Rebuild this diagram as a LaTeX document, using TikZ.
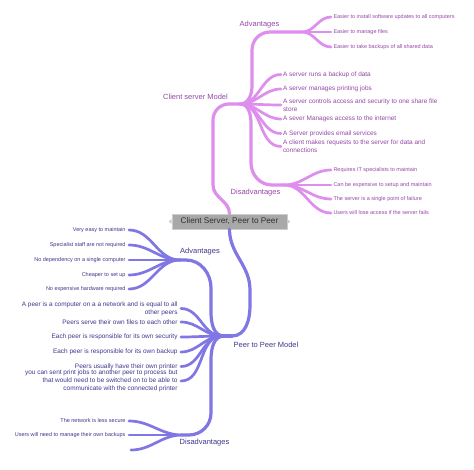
\documentclass[tikz,border=0pt]{standalone}
\usepackage{fontspec}
\setmainfont{Liberation Sans}
\definecolor{pinkc}{RGB}{222,142,236}
\definecolor{pinkt}{RGB}{150,72,168}
\definecolor{bluec}{RGB}{128,118,228}
\definecolor{bluet}{RGB}{62,56,140}
\definecolor{boxf}{RGB}{168,168,168}
\definecolor{boxd}{RGB}{205,205,205}
\definecolor{boxt}{RGB}{48,48,48}
\tikzset{
  ptrunk/.style={draw=pinkc, line width=3.2pt, line cap=round},
  pleaf/.style={draw=pinkc, line width=2.7pt, line cap=round},
  btrunk/.style={draw=bluec, line width=3.2pt, line cap=round},
  bleaf/.style={draw=bluec, line width=2.7pt, line cap=round},
  plabel/.style={text=pinkt, font=\fontsize{7.5}{9}\selectfont, inner sep=0.5pt},
  blabel/.style={text=bluet, font=\fontsize{7.5}{9}\selectfont, inner sep=0.5pt},
  pbig/.style={text=pinkt, font=\fontsize{6.45}{7.8}\selectfont, inner sep=0.5pt, outer sep=1.5pt, anchor=west, align=left},
  psmall/.style={text=pinkt, font=\fontsize{5.5}{6.5}\selectfont, inner sep=0.5pt, outer sep=2pt, anchor=west, align=left},
  bbig/.style={text=bluet, font=\fontsize{6.45}{7.8}\selectfont, inner sep=0.5pt, outer sep=3pt, anchor=east, align=right},
  bsmall/.style={text=bluet, font=\fontsize{5.5}{6.5}\selectfont, inner sep=0.5pt, outer sep=3pt, anchor=east, align=right},
  rootbox/.style={fill=boxf, draw=boxd, line width=0.6pt, text=boxt, font=\fontsize{8.2}{9.5}\selectfont, minimum width=115pt, minimum height=15pt, inner sep=1pt},
  tick/.style={fill=boxd, draw=none}
}
\begin{document}
\begin{tikzpicture}[x=1pt,y=-1pt]
\useasboundingbox (0,0) rectangle (474,470);
\fill[white] (0,0) rectangle (474,470);

% ---------- root ----------
\node[rootbox] (root) at (229.5,221.5) {Client Server, Peer to Peer};
\fill[tick] (root.west) ++(0,-2.5) -- ++(-3,2.5) -- ++(3,2.5) -- cycle;
\fill[tick] (root.east) ++(0,-2.5) -- ++(3,2.5) -- ++(-3,2.5) -- cycle;

% ---------- Client server branch ----------
\node[plabel] (csm) at (195.5,97) {Client server Model};
\coordinate (J1) at (240,104);
\node[plabel] (padv) at (259.5,25) {Advantages};
\coordinate (JA) at (302,32);
\node[plabel] (pdis) at (255.5,193) {Disadvantages};
\coordinate (JD) at (284,185);

\node[psmall] (pa1) at (331,17) {Easier to install software updates to all computers};
\node[psmall] (pa2) at (331,32) {Easier to manage files};
\node[psmall] (pa3) at (331,47) {Easier to take backups of all shared data};

\node[pbig] (pm1) at (281,74.5) {A server runs a backup of data};
\node[pbig] (pm2) at (281,89) {A server manages printing jobs};
\node[pbig] (pm3) at (281,105) {A server controls access and security to one share file\\store};
\node[pbig] (pm4) at (281,119) {A sever Manages access to the internet};
\node[pbig] (pm5) at (281,133.5) {A Server provides email services};
\node[pbig] (pm6) at (281,146.5) {A client makes requests to the server for data and\\connections};

\node[psmall] (pd1) at (331,170) {Requires IT specialists to maintain};
\node[psmall] (pd2) at (331,185) {Can be expensive to setup and maintain};
\node[psmall] (pd3) at (331,199) {The server is a single point of failure};
\node[psmall] (pd4) at (331,213) {Users will lose access if the server fails};

% trunks
\draw[ptrunk] (root.north) to[out=90,in=-90] (213,185) -- (213,120) to[out=90,in=180] (229,104) -- (J1);
\draw[ptrunk] (J1) to[out=0,in=-90] (252,86) -- (252,50) to[out=90,in=180] (270,32) -- (JA);
\draw[ptrunk] (J1) to[out=0,in=90] (251,124) -- (251,163) to[out=-90,in=180] (272,185) -- (JD);
% leaves
\foreach \n in {pm1,pm2,pm3,pm4,pm5,pm6}
  \draw[pleaf] (J1) to[out=0,in=180] (\n.west);
\foreach \n in {pa1,pa2,pa3}
  \draw[pleaf] (JA) to[out=0,in=180] (\n.west);
\foreach \n in {pd1,pd2,pd3,pd4}
  \draw[pleaf] (JD) to[out=0,in=180] (\n.west);

% ---------- Peer to peer branch ----------
\coordinate (J2) at (232,336);
\node[blabel] (ppm) at (266,345) {Peer to Peer Model};
\node[blabel] (badv) at (200,252) {Advantages};
\coordinate (JBA) at (180,260);
\node[blabel] (bdis) at (204.5,443) {Disadvantages};
\coordinate (JBD) at (182,435);

\node[bsmall] (ba1) at (129,230) {Very easy to maintain};
\node[bsmall] (ba2) at (129,245) {Specialist staff are not required};
\node[bsmall] (ba3) at (129,260) {No dependency on a single computer};
\node[bsmall] (ba4) at (129,275) {Cheaper to set up};
\node[bsmall] (ba5) at (129,289) {No expensive hardware required};

\node[bbig] (bm1) at (181,308.5) {A peer is a computer on a a network and is equal to all\\other peers};
\node[bbig] (bm2) at (181,322) {Peers serve their own files to each other};
\node[bbig] (bm3) at (181,337) {Each peer is responsible for its own security};
\node[bbig] (bm4) at (181,352) {Each peer is responsible for its own backup};
\node[bbig] (bm5) at (181,366.5) {Peers usually have their own printer};
\node[bbig] (bm6) at (181,381) {you can sent print jobs to another peer to process but\\that would need to be switched on to be able to\\communicate with the connected printer};

\node[bsmall] (bd1) at (129,421) {The network is less secure};
\node[bsmall] (bd2) at (129,435) {Users will need to manage their own backups};
\coordinate (bd3) at (131,450);

% trunks
\draw[btrunk] (root.south) to[out=-90,in=90] (250,290) -- (250,306) to[out=-90,in=0] (J2);
\draw[btrunk] (J2) -- (224,336) to[out=180,in=-90] (211,312) -- (211,288) to[out=90,in=0] (186,260) -- (JBA);
\draw[btrunk] (J2) -- (224,336) to[out=180,in=90] (211,360) -- (211,413) to[out=-90,in=0] (189,435) -- (JBD);
% leaves
\foreach \n in {bm1,bm2,bm3,bm4,bm5,bm6}
  \draw[bleaf] (J2) -- (222,336) to[out=180,in=0] (\n.east);
\foreach \n in {ba1,ba2,ba3,ba4,ba5}
  \draw[bleaf] (JBA) to[out=180,in=0] (\n.east);
\foreach \n in {bd1,bd2}
  \draw[bleaf] (JBD) to[out=180,in=0] (\n.east);
\draw[bleaf] (JBD) to[out=180,in=0] (bd3);
\end{tikzpicture}
\end{document}
